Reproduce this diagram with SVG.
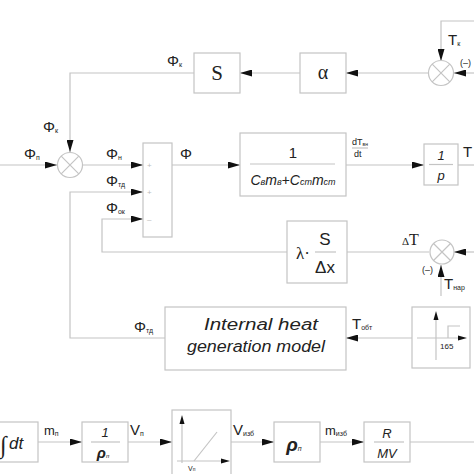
<svg xmlns="http://www.w3.org/2000/svg" width="474" height="474" viewBox="0 0 474 474">
<defs>
<marker id="ah" markerUnits="userSpaceOnUse" markerWidth="12" markerHeight="7" refX="12" refY="3.5" orient="auto">
<path d="M0,0 L12,3.5 L0,7 z" fill="#111"/>
</marker>
<style>
.ln{fill:none;stroke:#c4c4c4;stroke-width:1.2}
.bx{fill:#fff;stroke:#c4c4c4;stroke-width:1.2}
.t{font-family:"Liberation Sans",Arial,sans-serif;fill:#222}
.s{font-family:"Liberation Serif","Times New Roman",serif;fill:#222}
.i{font-family:"Liberation Sans",Arial,sans-serif;font-style:italic;fill:#222}
.sg{font-family:"Liberation Sans",Arial,sans-serif;fill:#bbb;font-size:8px}
</style>
</defs>
<rect width="474" height="474" fill="#fff"/>

<g id="connectors">
<path class="ln" d="M474,21 H441 V61" marker-end="url(#ah)"/>
<path class="ln" d="M474,73 H454" marker-end="url(#ah)"/>
<path class="ln" d="M429,73 H346" marker-end="url(#ah)"/>
<path class="ln" d="M300,73 H240" marker-end="url(#ah)"/>
<path class="ln" d="M194,73 H70 V152" marker-end="url(#ah)"/>
<path class="ln" d="M0,165 H57" marker-end="url(#ah)"/>
<path class="ln" d="M83,165 H143" marker-end="url(#ah)"/>
<path class="ln" d="M165,338 H70 V192 H143" marker-end="url(#ah)"/>
<path class="ln" d="M287,252 H102 V219 H143" marker-end="url(#ah)"/>
<path class="ln" d="M172,165 H240" marker-end="url(#ah)"/>
<path class="ln" d="M346,165 H424" marker-end="url(#ah)"/>
<path class="ln" d="M458,165 H474"/>
<path class="ln" d="M429,252 H347"/>
<path class="ln" d="M474,252 H454" marker-end="url(#ah)"/>
<path class="ln" d="M441,296 V265" marker-end="url(#ah)"/>
<path class="ln" d="M412,338 H346" marker-end="url(#ah)"/>
<path class="ln" d="M38,442 H82" marker-end="url(#ah)"/>
<path class="ln" d="M128,442 H172" marker-end="url(#ah)"/>
<path class="ln" d="M231,442 H274" marker-end="url(#ah)"/>
<path class="ln" d="M320,442 H364" marker-end="url(#ah)"/>
<path class="ln" d="M410,442 H474"/>
</g>

<g id="labels">
<text class="t" x="167" y="66" font-size="15">Φ<tspan font-size="7" dy="1">к</tspan></text>
<text class="t" x="448" y="45" font-size="15">T<tspan font-size="7" dy="1">к</tspan></text>
<text class="t" x="460" y="66" font-size="9">(–)</text>
<text class="t" x="43" y="132" font-size="15">Φ<tspan font-size="7" dy="1">к</tspan></text>
<text class="t" x="24" y="159" font-size="15">Φ<tspan font-size="7" dy="1">п</tspan></text>
<text class="t" x="106" y="159" font-size="15">Φ<tspan font-size="7" dy="1">н</tspan></text>
<text class="t" x="106" y="186" font-size="15">Φ<tspan font-size="7" dy="1">тд</tspan></text>
<text class="t" x="106" y="213" font-size="15">Φ<tspan font-size="7" dy="1">ок</tspan></text>
<text class="t" x="180" y="159" font-size="15">Φ</text>
<text class="t" x="352" y="145" font-size="9">dT<tspan font-size="5" dy="1">вн</tspan></text>
<path class="ln" d="M352,148 H368"/>
<text class="t" x="354" y="157" font-size="9">dt</text>
<text class="t" x="463" y="157" font-size="15">T</text>
<text class="s" x="402" y="245" font-size="16"><tspan font-size="11">Δ</tspan>T</text>
<text class="t" x="422" y="273" font-size="9">(–)</text>
<text class="t" x="444" y="289" font-size="15">T<tspan font-size="7" dy="1">нар</tspan></text>
<text class="t" x="134" y="332" font-size="15">Φ<tspan font-size="7" dy="1">тд</tspan></text>
<text class="t" x="352" y="329" font-size="15">T<tspan font-size="7" dy="1">обт</tspan></text>
<text class="t" x="44" y="435" font-size="13">m<tspan font-size="7" dy="1">п</tspan></text>
<text class="t" x="130" y="435" font-size="15">V<tspan font-size="7" dy="1">п</tspan></text>
<text class="t" x="233" y="435" font-size="15">V<tspan font-size="7" dy="1">изб</tspan></text>
<text class="t" x="325" y="435" font-size="13">m<tspan font-size="7" dy="1">изб</tspan></text>
</g>

<g id="node-S"><rect class="bx" x="194" y="53" width="46" height="40"/><text class="s" x="217" y="80" font-size="21" text-anchor="middle">S</text></g>
<g id="node-alpha"><rect class="bx" x="300" y="53" width="46" height="40"/><text class="s" x="323" y="79" font-size="20" text-anchor="middle">α</text></g>
<g id="node-cmp-top"><circle class="bx" cx="441" cy="73" r="12.5"/><path class="ln" d="M432.2,64.2 L449.8,81.8 M449.8,64.2 L432.2,81.8"/></g>
<g id="node-cmp-main"><circle class="bx" cx="70" cy="165" r="12.5"/><path class="ln" d="M61.2,156.2 L78.8,173.8 M78.8,156.2 L61.2,173.8"/></g>
<g id="node-sum"><rect class="bx" x="143" y="143" width="29" height="94"/>
<text class="sg" x="147" y="168">+</text><text class="sg" x="147" y="195">+</text><text class="sg" x="147" y="222">–</text></g>
<g id="node-transfer"><rect class="bx" x="240" y="133" width="106" height="63"/>
<text class="t" x="293" y="158" font-size="15" text-anchor="middle">1</text>
<path class="ln" d="M250,164 H335"/>
<text class="i" x="293" y="185" font-size="14" text-anchor="middle">C<tspan font-size="9">в</tspan>m<tspan font-size="9">в</tspan>+C<tspan font-size="9">ст</tspan>m<tspan font-size="9">ст</tspan></text></g>
<g id="node-integrator"><rect class="bx" x="424" y="144" width="34" height="41"/>
<text class="i" x="441" y="160" font-size="13" text-anchor="middle">1</text>
<path class="ln" d="M429,164.5 H453"/>
<text class="i" x="441" y="180" font-size="13" text-anchor="middle">p</text></g>
<g id="node-lambda"><rect class="bx" x="287" y="221" width="60" height="62"/>
<text class="s" x="296" y="259" font-size="17">λ·</text>
<text class="t" x="325" y="245" font-size="17" text-anchor="middle">S</text>
<path class="ln" d="M315,252 H336"/>
<text class="t" x="325" y="273" font-size="17" text-anchor="middle">Δx</text></g>
<g id="node-cmp-dT"><circle class="bx" cx="442" cy="252" r="12"/><path class="ln" d="M433.5,243.5 L450.5,260.5 M450.5,243.5 L433.5,260.5"/></g>
<g id="node-heat"><rect class="bx" x="165" y="307" width="181" height="63"/>
<text class="i" x="204" y="330" font-size="16" textLength="114" lengthAdjust="spacingAndGlyphs">Internal heat</text>
<text class="i" x="187" y="352" font-size="16" textLength="138" lengthAdjust="spacingAndGlyphs">generation model</text></g>
<g id="node-step"><rect class="bx" x="412" y="307" width="58" height="61"/>
<path class="ln" d="M417,338 H458"/><path d="M467,338 L458,335.5 L458,340.5 z" fill="#111"/>
<path class="ln" d="M436,360 V320"/><path d="M436,311 L433.5,320 L438.5,320 z" fill="#111"/>
<path class="ln" d="M448,338 V326 H460"/>
<text class="t" x="440" y="349" font-size="8">165</text></g>
<g id="node-intdt"><rect class="bx" x="-2" y="422" width="40" height="40"/>
<text class="s" x="0" y="453" font-size="24">∫</text><text class="i" x="9" y="449" font-size="17">dt</text></g>
<g id="node-inv-rho"><rect class="bx" x="82" y="422" width="46" height="40"/>
<text class="i" x="105" y="437" font-size="13" text-anchor="middle">1</text>
<path class="ln" d="M91,442 H120"/>
<text class="i" x="103" y="458" font-size="15" font-weight="bold" text-anchor="middle">ρ<tspan font-size="6" font-weight="normal">п</tspan></text></g>
<g id="node-graph"><rect class="bx" x="172" y="410" width="59" height="80"/>
<path class="ln" d="M182,463 V424"/><path d="M182,415 L179.5,424 L184.5,424 z" fill="#111"/>
<path class="ln" d="M177,461 H221"/><path d="M230,461 L221,458.5 L221,463.5 z" fill="#111"/>
<path class="ln" d="M194,461 L217,432"/>
<text class="t" x="188" y="471" font-size="7">V<tspan font-size="5">п</tspan></text></g>
<g id="node-rho"><rect class="bx" x="274" y="422" width="46" height="40"/>
<text class="i" x="294" y="451" font-size="19" font-weight="bold" text-anchor="middle">ρ<tspan font-size="7" font-weight="normal">п</tspan></text></g>
<g id="node-RMV"><rect class="bx" x="364" y="422" width="46" height="40"/>
<text class="i" x="387" y="438" font-size="13" text-anchor="middle">R</text>
<path class="ln" d="M374,442 H404"/>
<text class="i" x="387" y="458" font-size="13" text-anchor="middle">MV</text></g>
</svg>
